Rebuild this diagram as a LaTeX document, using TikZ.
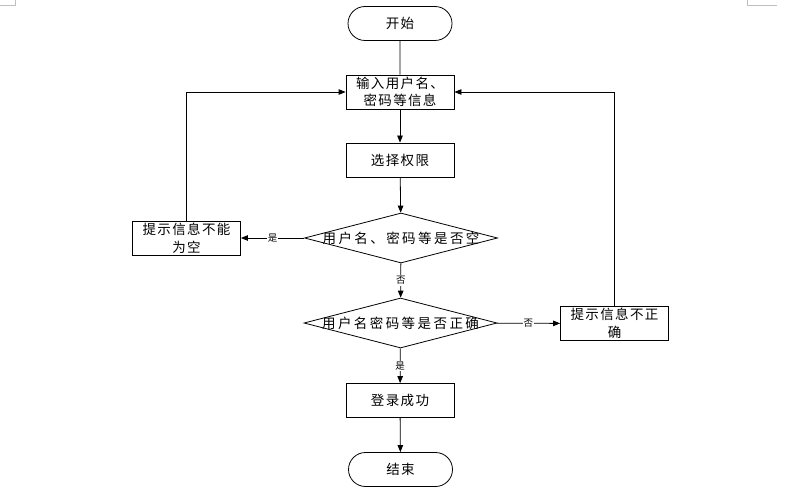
\documentclass[tikz,border=0pt]{standalone}
\usepackage{fontspec}
\newfontfamily\cjk[LetterSpace=10]{Noto Sans CJK SC}
\newfontfamily\cjksp[LetterSpace=18]{Noto Sans CJK SC}
\newfontfamily\cjklab{Noto Sans CJK SC}
\usetikzlibrary{arrows.meta,shapes.geometric,shapes.misc}
\begin{document}
\begin{tikzpicture}[x=1pt,y=-1pt,
  base/.style={draw, line width=0.8pt, inner sep=1pt, align=center, font=\cjk\fontsize{13.5}{17.5}\selectfont},
  proc/.style={base, rectangle, minimum width=108, minimum height=34},
  term/.style={base, rounded rectangle, minimum width=106, minimum height=34},
  dec/.style={base, diamond, minimum width=193, minimum height=50, inner sep=0pt, font=\cjksp\fontsize{13.5}{16}\selectfont},
  arr/.style={line width=0.8pt, -{Triangle[length=7pt,width=5.5pt]}},
  ln/.style={line width=0.8pt},
  lab/.style={fill=white, inner sep=1pt, font=\cjklab\fontsize{9.5}{10}\selectfont},
  cornermark/.style={draw=black!25, line width=0.8pt}
]
\useasboundingbox (0,0) rectangle (794,494);
% page corner marks
\draw[cornermark] (0,5) -- (15,5) -- (15,0);
\draw[cornermark] (747,0) -- (747,5) -- (777,5);

\node[term] (start) at (400,23.5) {开始};
\node[proc] (input) at (400,92) {输入用户名、\\密码等信息};
\node[proc] (sel) at (400,160) {选择权限};
\node[dec] (d1) at (401,238) {\makebox[0pt]{用户名、密码等是否空}};
\node[proc] (empty) at (186.5,238) {提示信息不能\\为空};
\node[dec] (d2) at (400.5,323) {\makebox[0pt]{用户名密码等是否正确}};
\node[proc] (wrong) at (614.5,323.5) {提示信息不正\\确};
\node[proc] (ok) at (400,400.5) {登录成功};
\node[term] (end) at (400.5,469.5) {结束};

\draw[ln] (start) -- (input);
\draw[arr] (input) -- (sel);
\draw[arr] (sel) -- (d1);
\draw[arr] (d1) -- node[lab] {是} (empty);
\draw[arr] (d1) -- node[lab] {否} (d2);
\draw[arr] (d2) -- node[lab] {否} (wrong);
\draw[arr] (d2) -- node[lab] {是} (ok);
\draw[arr] (ok) -- (end);
\draw[arr] (empty.north) |- (input.west);
\draw[arr] (wrong.north) |- (input.east);
\end{tikzpicture}
\end{document}
